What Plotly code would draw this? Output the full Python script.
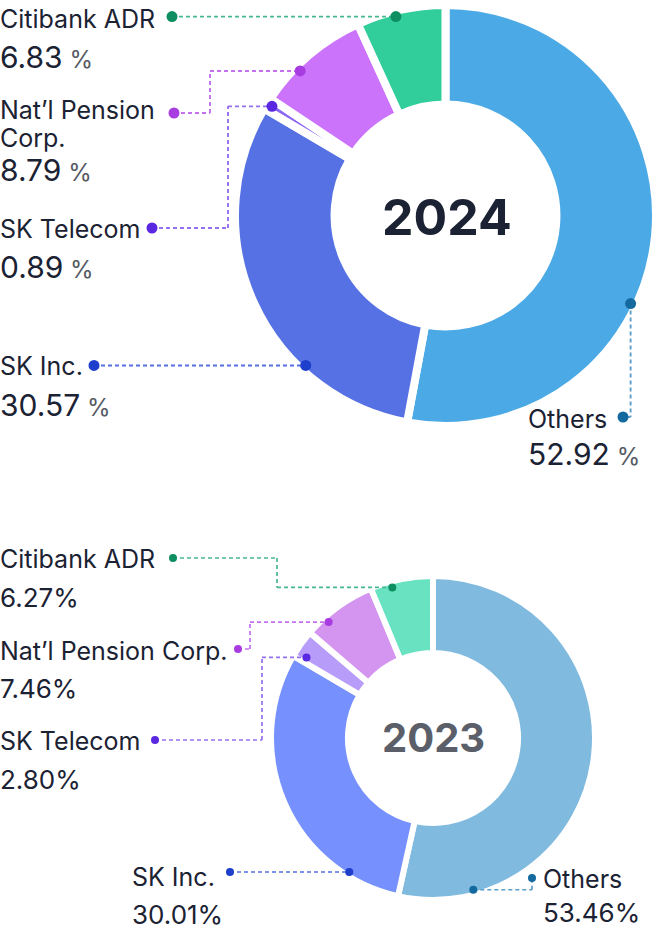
import math
import plotly.graph_objects as go

W, H = 656, 934

# ---------------- data ----------------
companies = ["Others", "SK Inc.", "SK Telecom", "Nat’l Pension Corp.", "Citibank ADR"]
share_2024 = [52.92, 30.57, 0.89, 8.79, 6.83]
share_2023 = [53.46, 30.01, 2.80, 7.46, 6.27]
years = ["2024", "2023"]

# ---------------- styles ----------------
slice_colors_2024 = ["#4BA9E5", "#5671E3", "#8C66F5", "#CC73FC", "#31CE9C"]
slice_colors_2023 = ["#80BADF", "#7690FE", "#B79DF9", "#D395F0", "#69E2C1"]
dot_colors = ["#146A9E", "#1E3FCB", "#5A28E0", "#A83CE0", "#0E8F62"]
line_colors = ["#5B9EC9", "#5570E0", "#9570F0", "#C470F0", "#48B88E"]
TXT = "#1B2233"
FONT = "Inter"

# geometry of each donut (pixels)
G24 = dict(x0=235, x1=656, y0=5, y1=426, lw=8, hole=0.527, rdot=205, dotr=5.5, dash_w=1.9)
G23 = dict(x0=271, x1=595, y0=576, y1=900, lw=6, hole=0.525, rdot=156, dotr=4.0, dash_w=1.7)

def center(g):
    return (g["x0"] + g["x1"]) / 2, (g["y0"] + g["y1"]) / 2

def px(x):
    return x / W

def py(y):
    return 1 - y / H

def slice_point(shares, idx, frac, g, r=None):
    cx, cy = center(g)
    r = g["rdot"] if r is None else r
    tot = sum(shares)
    ang = 360.0 * (sum(shares[:idx]) + frac * shares[idx]) / tot
    t = math.radians(ang)
    return cx + r * math.sin(t), cy - r * math.cos(t)

fig = go.Figure()

for shares, cols, g in [(share_2024, slice_colors_2024, G24), (share_2023, slice_colors_2023, G23)]:
    fig.add_trace(go.Pie(
        labels=companies, values=shares, sort=False, direction="clockwise", rotation=0,
        hole=g["hole"], textinfo="none", hoverinfo="label+percent", showlegend=False,
        marker=dict(colors=cols, line=dict(color="white", width=g["lw"])),
        domain=dict(x=[px(g["x0"]), px(g["x1"])], y=[py(g["y1"]), py(g["y0"])]),
    ))

shapes = []
annotations = []

def seg(xa, ya, xb, yb, color, w):
    shapes.append(dict(type="line", xref="paper", yref="paper", layer="above",
                       x0=px(xa), y0=py(ya), x1=px(xb), y1=py(yb),
                       line=dict(color=color, width=w, dash="4px,3px")))

def dot(x, y, r, color):
    shapes.append(dict(type="circle", xref="paper", yref="paper", layer="above",
                       x0=px(x - r), x1=px(x + r), y0=py(y + r), y1=py(y - r),
                       fillcolor=color, line=dict(width=0)))

def text(x, y, s, size, color=TXT, weight=400, anchor="left"):
    annotations.append(dict(xref="paper", yref="paper", x=px(x), y=py(y), text=s,
                            showarrow=False, xanchor=anchor, yanchor="middle",
                            font=dict(family=FONT, size=size, color=color, weight=weight)))

# leader definitions: (index, frac in slice, radius override, route, label-dot x, label-dot y, elbow x)
lead24 = [
    (0, 0.606, None, "vh", 623, 417, None),
    (1, 0.295, None, "h", 94, None, None),
    (2, 0.5, None, "hvh", 152, 228, 228),
    (3, 0.35, None, "hvh", 174, 113, 210),
    (4, 0.43, None, "h", 172, None, None),
]
lead23 = [
    (0, 0.858, 157, "hv", 532, 878, None),
    (1, 0.181, 158, "h", 230, None, None),
    (2, 0.2, 150, "hvh", 155, 740, 262),
    (3, 0.277, None, "hvh", 238, 649, 250),
    (4, 0.33, None, "hvh", 173, 558, 277),
]

for shares, g, leads in [(share_2024, G24, lead24), (share_2023, G23, lead23)]:
    for idx, frac, r, route, lx, ly, ex in leads:
        sx, sy = slice_point(shares, idx, frac, g, r)
        c, w = line_colors[idx], g["dash_w"]
        if route == "h":
            ly = sy
            seg(lx, ly, sx, sy, c, w)
        elif route == "hvh":
            seg(lx, ly, ex, ly, c, w)
            seg(ex, ly, ex, sy, c, w)
            seg(ex, sy, sx, sy, c, w)
        elif route == "vh":
            seg(sx, sy, sx, ly, c, w)
            seg(sx, ly, lx, ly, c, w)
        elif route == "hv":
            seg(sx, sy, lx, sy, c, w)
            seg(lx, sy, lx, ly, c, w)
        dot(sx, sy, g["dotr"], dot_colors[idx])
        dot(lx, ly, g["dotr"], dot_colors[idx])

# ---------------- texts 2024 ----------------
def v24(v):
    return f"{v:.2f}<span style='font-size:24px;color:#555A63'> %</span>"

LS, VS24, VS23 = 25, 30, 26
L0 = -2
text(L0, 19, "Citibank ADR", LS)
text(L0, 57, v24(share_2024[4]), VS24)
text(L0, 110, "Nat’l Pension", LS)
text(L0, 137.5, "Corp.", LS)
text(L0, 170, v24(share_2024[3]), VS24)
text(L0, 229, "SK Telecom", LS)
text(L0, 266.5, v24(share_2024[2]), VS24)
text(L0, 366, "SK Inc.", LS)
text(L0, 405, v24(share_2024[1]), VS24)
text(526, 419, "Others", LS)
text(526, 453.5, v24(share_2024[0]), VS24)
cx, cy = center(G24)
text(cx + 1, 217, years[0], 50, color=TXT, weight=700, anchor="center")

# ---------------- texts 2023 ----------------
def v23(v):
    return f"{v:.2f}%"

text(L0, 559, "Citibank ADR", LS)
text(L0, 597, v23(share_2023[4]), VS23)
text(L0, 651, "Nat’l Pension Corp.", LS)
text(L0, 688, v23(share_2023[3]), VS23)
text(L0, 741, "SK Telecom", LS)
text(L0, 779, v23(share_2023[2]), VS23)
text(130, 877, "SK Inc.", LS)
text(130, 914.5, v23(share_2023[1]), VS23)
text(541, 879, "Others", LS)
text(541, 912.5, v23(share_2023[0]), VS23)
cx, cy = center(G23)
text(cx, 737, years[1], 40, color="#5B5F6A", weight=700, anchor="center")

fig.update_layout(
    width=W, height=H, margin=dict(l=0, r=0, t=0, b=0),
    paper_bgcolor="white", plot_bgcolor="white",
    shapes=shapes, annotations=annotations, showlegend=False,
    font=dict(family=FONT, color=TXT),
)

fig.write_html("out.html")
